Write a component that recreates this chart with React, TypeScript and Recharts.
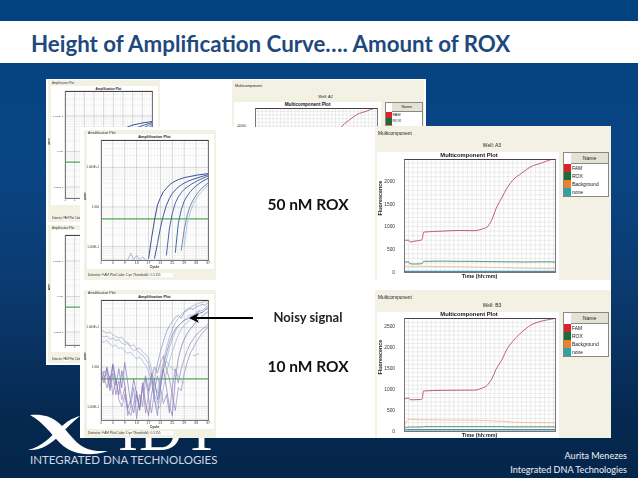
import React from "react";
import {
  CartesianGrid,
  Line,
  LineChart,
  ReferenceLine,
  XAxis,
  YAxis,
} from "recharts";

// amplification plots: cycle vs delta Rn (log)
const cycles = [1,2,3,4,5,6,7,8,9,10,11,12,13,14,15,16,17,18,19,20,21,22,23,24,25,26,27,28,29,30,31,32,33,34,35,36,37];
const cycleTicks = [1,5,9,13,17,21,25,29,33,37];
const rnTicks = [0.1,1,10];
const rnTickLabels = { 0.1: "1.000E-1", 1: "1.000", 10: "1.000E+1" };
const threshold = 0.5;

const clean50 = [
  [17, [0.05,0.16,0.47,1.12,1.72,2.44,2.96,3.6,4.1,4.5,4.9,5.2,5.5,5.7,5.9,6.1,6.3,6.5,6.6,6.8,6.9]],
  [19, [0.05,0.12,0.3,0.62,1.1,1.65,2.2,2.7,3.2,3.6,4.0,4.4,4.7,5.0,5.3,5.6,5.9,6.2,6.5]],
  [23, [0.06,0.28,0.7,1.25,1.8,2.3,2.8,3.2,3.6,4.0,4.4,4.8,5.2,5.6,6.0]],
  [26, [0.07,0.38,0.85,1.4,1.9,2.4,2.9,3.4,3.9,4.4,4.8,5.3]],
  [28, [0.08,0.27,0.62,1.05,1.5,2.0,2.5,3.0,3.5,4.0]],
  [29, [0.1,0.38,0.72,1.15,1.6,2.05,2.5,3.0,3.5]],
  [10, [0.047,0.068,0.047,0.06,0.047,0.055,0.047]],
];
const cleanColors = ["#3d4c92","#41589e","#4a68a6","#4269a0","#6a8db8","#afc8da","#a9b8cc"];

const noisy10 = [
  [1, [8.4,7.8,7.2,7.6,6.4,5.9,5.4,5.6,4.4,4.2,3.4,3.6,2.9,3.0,2.4,2.1,1.7,0.9,0.35,0.22,0.6,1.4,3.0,5.5,9,13,17,21,25,29,32,35,38,41,43,45,47]],
  [1, [6.3,5.7,6.1,5.0,5.4,4.6,4.9,4.0,3.7,3.9,3.0,2.6,2.8,2.2,2.0,1.6,1.2,0.6,0.2,0.12,0.3,0.8,1.5,3,5,8,11,13,15,18,21,19,24,27,26,31,35]],
  [1, [4.6,4.2,4.8,3.7,3.3,3.6,2.9,3.1,2.5,2.2,2.4,1.9,1.6,1.8,1.4,1.1,0.8,0.4,0.15,0.09,0.1,0.3,0.7,1.4,2.4,4,6.5,9,11.5,13,16,18,17,22,24,27,30]],
  [2, [0.5,1,0.45,1.2,0.35,0.9,0.3,1.3,0.4,0.12,0.07,0.2,0.09,0.3,0.6,0.25,0.7,0.15,0.06,0.3,1.1,2.2,4,6.5,9,11,13,15,16,18,20,22,25,23,28,31]],
  [1, [0.7,0.4,0.9,0.3,1.1,0.5,0.2,0.8,0.35,0.09,0.15,0.5,0.2,0.08,0.4,0.12,0.06,0.2,0.5,0.15,0.4,0.9,0.3,0.1,0.06,0.5,1.6,3.2,5,7,9,11,14,16,19,22,25]],
  [1, [0.35,0.8,0.6,0.25,0.7,0.2,0.45,0.15,0.3,0.06,0.1,0.3,0.05,0.2,0.1,0.5,0.16,0.07,0.25,0.6,0.3,0.12,0.2,0.07,0.3,0.9,0.4,0.9,1.6,2.6,3.8,5,6.5,7.5,9,10,12]],
  [1, [0.9,0.55,0.3,0.6,0.2,0.5,0.15,0.1,0.2,0.08,0.06,0.12,0.25,0.09,0.35,0.07,0.2,0.5,1,0.7,1.3,1.9,0.9,0.5,0.2,0.08,0.3,0.25,0.7,1.3,2.2,3,4.2,5.5,7,8.5,10]],
  [19, [0.5,1.2,2.5,4.5,7.5,11,14,18,20,17,24,27,30,28,33,35,38,36,42]],
  [22, [1.0,1.4,1.1,0.9,0.8,0.6,0.45,0.38]],
  [32, [1.9,2.0,2.2]],
];
const noisyColors = ["#93a2c4","#9aa3cb","#91aecb","#7a74b8","#6f6db4","#8a80c0","#9b78b4","#7f8abc","#86b2bc","#99a8ae"];

// multicomponent plots: time vs fluorescence
const times = [0,3,4,7,11,12,13,25,36,47,51,55,58,61,65,68,72,78,84,91,98,100];
const famA3 = [700,700,660,680,700,720,880,900,915,910,940,990,1140,1400,1650,1840,2020,2180,2320,2400,2480,2490];
const roxA3 = [220,225,180,175,180,185,235,240,235,235,232,230,228,228,225,225,225,222,222,225,225,220];
const bgA3 = [130,130,125,125,125,125,125,120,115,110,105,105,100,100,95,95,90,85,80,78,75,75];
const noneA3 = [15,15,15,15,15,15,15,15,15,15,15,15,15,15,15,15,15,15,15,15,15,15];
const famB3 = [760,790,750,750,755,770,960,975,978,980,1020,1095,1240,1480,1720,1950,2150,2370,2540,2635,2685,2700];
const roxB3 = [60,95,95,95,95,95,105,105,105,105,105,105,105,105,105,100,100,100,100,100,100,100];
const bgB3 = [80,280,280,275,270,270,270,265,262,260,255,250,245,240,235,225,215,205,200,200,200,200];
const noneB3 = [25,30,30,30,30,30,30,30,30,30,30,30,30,30,30,30,30,30,30,30,30,30];
const dyeNames = ["FAM","ROX","Background","none"];
const dyeColors = ["#b5505f","#4c8a68","#eabf94","#4d8fa8"];
const dyeSwatches = ["#d8232a","#1d6b3a","#ee7f2d","#2aa3a8"];
const ticksA3 = [0,500,1000,1500,2000];
const ticksB3 = [0,500,1000,1500,2000,2500];

const beige = "#f3f1e4";
const sans = "'Liberation Sans', Arial, sans-serif";
const body = "Lato, sans-serif";

const minorLog = [0.05,0.06,0.07,0.08,0.09,0.2,0.3,0.4,0.5,0.6,0.7,0.8,0.9,2,3,4,5,6,7,8,9,20,30,40];
const minorCycle = [2,3,4,6,7,8,10,11,12,14,15,16,18,19,20,22,23,24,26,27,28,30,31,32,34,35,36];
const gridTimes = [3,6,9,12,15,18,21,24,27,30,33,36,39,42,45,48,51,54,57,60,63,66,69,72,75,78,81,84,87,90,93,96,99];
const gridFluor = [100,200,300,400,500,600,700,800,900,1000,1100,1200,1300,1400,1500,1600,1700,1800,1900,2000,2100,2200,2300,2400,2500,2600,2700];

function ampRows(curves: any[]) {
  return cycles.map((c, i) => {
    const row: any = { cycle: c };
    curves.forEach(([start, vals], j) => {
      const v = vals[i + 1 - start];
      row["s" + j] = v === undefined ? null : v;
    });
    return row;
  });
}

function AmpPanel({ x, y, w, h, l, t, r, b, curves, colors, lineWidth, yMin, yMax, s = 1 }: any) {
  const data = ampRows(curves);
  return (
    <div style={{ position: "absolute", left: x, top: y, width: w, height: h, background: beige, fontFamily: sans, overflow: "hidden" }}>
      <div style={{ position: "absolute", left: 4, top: 1, fontSize: 3.6 * s, color: "#333" }}>Amplification Plot</div>
      <div style={{ position: "absolute", left: 3, top: t - 6 * s, width: w - 5, height: b - t + 15 * s, background: "#fff" }} />
      <div style={{ position: "absolute", left: l, width: r - l, top: t - 5 * s, textAlign: "center", fontSize: 3.8 * s, fontWeight: 700, color: "#222" }}>Amplification Plot</div>
      <div style={{ position: "absolute", left: 0, top: 0 }}>
        <LineChart width={w} height={h} data={data} margin={{ top: t, right: w - r, bottom: 0, left: 0 }}>
          <CartesianGrid stroke="#b9b9b9" strokeWidth={0.6} />
          <XAxis
            dataKey="cycle"
            type="number"
            domain={[1, 37]}
            ticks={cycleTicks}
            height={h - b}
            interval={0}
            axisLine={false}
            tickLine={false}
            tickSize={0}
            tickMargin={1}
            tick={{ fontSize: 3.6 * s, fill: "#333" }}
            label={{ value: "Cycle", position: "insideTop", offset: 5 * s, fontSize: 3.6 * s, fontWeight: 700, fill: "#333" }}
          />
          <YAxis
            type="number"
            scale="log"
            domain={[yMin, yMax]}
            allowDataOverflow
            ticks={rnTicks}
            width={l}
            axisLine={false}
            tickLine={false}
            tickSize={0}
            tickMargin={2}
            tickFormatter={(v: number) => rnTickLabels[v]}
            tick={{ fontSize: 2.9 * s, fill: "#333" }}
            label={{ value: "ΔRn", angle: -90, position: "insideLeft", offset: 1, fontSize: 3.6 * s, fontWeight: 700, fill: "#222" }}
          />
          {minorLog.map((v) => (
            <ReferenceLine key={"h" + v} y={v} stroke="#e2e2e2" strokeWidth={0.4} />
          ))}
          {minorCycle.map((v) => (
            <ReferenceLine key={"v" + v} x={v} stroke="#e8e8e8" strokeWidth={0.4} />
          ))}
          <ReferenceLine y={threshold} stroke="#4eaa55" strokeWidth={1.3} />
          {curves.map((_: any, j: number) => (
            <Line key={j} dataKey={"s" + j} stroke={colors[j]} strokeWidth={lineWidth} dot={false} isAnimationActive={false} />
          ))}
        </LineChart>
      </div>
      <div style={{ position: "absolute", left: l, top: t, width: r - l - 1, height: b - t - 1, border: "0.7px solid #777", borderTopColor: "#444" }} />
      <div style={{ position: "absolute", left: 4, bottom: 3 * s, fontSize: 3.3 * s, color: "#333", whiteSpace: "nowrap" }}>
        Detector: <span style={{ background: "#fff" }}>FAM</span> Plot Color: <span style={{ background: "#fff" }}>Dye</span> Threshold: <span style={{ background: "#fff", padding: "0 12px 0 1px" }}>0.5155</span>
      </div>
    </div>
  );
}

function MultiPanel({ x, y, w, h, band, l, t, r, b, well, fam, rox, bg, none, ticks, yMax, lx, lw, s = 1 }: any) {
  const data = times.map((time, i) => ({ time, fam: fam[i], rox: rox[i], bg: bg[i], none: none[i] }));
  const series = [fam, rox, bg, none];
  const keys = ["fam", "rox", "bg", "none"];
  return (
    <div style={{ position: "absolute", left: x, top: y, width: w, height: h, background: beige, fontFamily: sans, overflow: "hidden" }}>
      <div style={{ position: "absolute", left: 3, top: 5 * s, fontSize: 4.8 * s, color: "#222" }}>Multicomponent</div>
      <div style={{ position: "absolute", left: 0, width: 234 * s, top: band - 10 * s, textAlign: "center", fontSize: 5 * s, color: "#222" }}>Well:  {well}</div>
      <div style={{ position: "absolute", left: 2, top: band, width: lx - 6, height: h - band, background: "#fff" }} />
      <div style={{ position: "absolute", left: 0, width: l + r - 21 * s, top: t - 7 * s, textAlign: "center", fontSize: 5.8 * s, fontWeight: 700, color: "#111" }}>Multicomponent Plot</div>
      <div style={{ position: "absolute", left: 0, top: 0 }}>
        <LineChart width={w} height={h} data={data} margin={{ top: t, right: w - r, bottom: 0, left: 0 }}>
          <XAxis
            dataKey="time"
            type="number"
            domain={[0, 100]}
            height={h - b}
            ticks={[0]}
            tickFormatter={() => ""}
            axisLine={false}
            tickLine={false}
            label={{ value: "Time (hh:mm)", position: "insideTop", offset: 2, fontSize: 5.4 * s, fontWeight: 700, fill: "#222" }}
          />
          <YAxis
            type="number"
            domain={[0, yMax]}
            allowDataOverflow
            ticks={ticks}
            width={l}
            axisLine={false}
            tickLine={false}
            tickMargin={3}
            tick={{ fontSize: 4.8 * s, fill: "#333" }}
            label={{ value: "Fluorescence", angle: -90, position: "insideLeft", offset: 5, fontSize: 5.4 * s, fontWeight: 700, fill: "#222" }}
          />
          {gridFluor.map((v) => (
            <ReferenceLine key={"h" + v} y={v} stroke="#d8d8d8" strokeWidth={0.5} />
          ))}
          {gridTimes.map((v) => (
            <ReferenceLine key={"v" + v} x={v} stroke="#d8d8d8" strokeWidth={0.5} />
          ))}
          {series.map((_, j) => (
            <Line key={j} type="monotone" dataKey={keys[j]} stroke={dyeColors[j]} strokeWidth={j === 3 ? 1.3 : 0.9} dot={false} isAnimationActive={false} />
          ))}
        </LineChart>
      </div>
      <div style={{ position: "absolute", left: l, top: t, width: r - l - 1, height: b - t - 1, border: "0.8px solid #777", borderTopColor: "#444" }} />
      <div style={{ position: "absolute", left: lx, top: band, width: lw, border: "0.6px solid #888", background: "#fff", fontSize: 5 * s, color: "#222" }}>
        <div style={{ height: 10 * s, lineHeight: 10 * s + "px", textAlign: "center", background: "#e4e2d2", borderBottom: "0.5px solid #888", marginLeft: 7 * s }}>Name</div>
        {dyeNames.map((name, i) => (
          <div key={name} style={{ height: 8 * s, lineHeight: 8 * s + "px", position: "relative", paddingLeft: 8 * s }}>
            <span style={{ position: "absolute", left: 0, top: 0, width: 7 * s, height: 8 * s, background: dyeSwatches[i] }} />
            {name}
          </div>
        ))}
      </div>
    </div>
  );
}

export default function App() {
  return (
    <div style={{ position: "absolute", left: 0, top: 0, width: 638, height: 478, overflow: "hidden", background: "linear-gradient(180deg, #01437f 0%, #0a4583 35%, #0b3a70 60%, #05284f 88%, #04264c 100%)", fontFamily: body }}>
      <div style={{ position: "absolute", left: 0, top: 21, width: 638, height: 42, background: "#fff", color: "#1f497d", fontSize: 22.3, fontWeight: 700, lineHeight: "46px", paddingLeft: 31, boxSizing: "border-box", whiteSpace: "nowrap" }}>
        Height of Amplification Curve…. Amount of ROX
      </div>

      {/* logo sits under the screenshots */}
      <svg width={240} height={70} style={{ position: "absolute", left: 0, top: 405 }}>
        <path d="M30 10 C52 8 60 18 70 30 C80 42 88 47 108 46 C90 52 72 50 60 38 C50 28 44 18 30 10 Z" fill="#fff" />
        <path d="M28 45 C42 42 50 32 60 23 C66 17 72 13 80 11 C72 17 66 24 60 30 C50 40 40 46 28 45 Z" fill="#fff" />
        <text x={118} y={45} fontFamily="'Liberation Serif', serif" fontSize={60} fill="#fff" letterSpacing={1}>IDT</text>
      </svg>
      <div style={{ position: "absolute", left: 30, top: 453, fontSize: 11.5, color: "#cfd8e4", whiteSpace: "nowrap", fontWeight: 400 }}>INTEGRATED DNA TECHNOLOGIES</div>
      <div style={{ position: "absolute", right: 11, top: 449, textAlign: "right", color: "#eef2f7", fontSize: 9.1, lineHeight: "14px" }}>
        Aurita Menezes
        <br />
        Integrated DNA Technologies
      </div>

      <div style={{ position: "absolute", left: 0, top: 0, width: 638, height: 478, filter: "blur(0.45px)" }}>
        {/* slides pasted behind the front screenshots */}
        <div style={{ position: "absolute", left: 46, top: 79, width: 380, height: 60, background: "#fff" }} />
        <div style={{ position: "absolute", left: 46, top: 79, width: 40, height: 286, background: "#fff" }} />
        <AmpPanel x={48} y={80} w={112} h={142} l={17} t={11} r={104} b={118} curves={clean50} colors={cleanColors} lineWidth={1} yMin={0.049} yMax={50} s={0.8} />
        <AmpPanel x={48} y={225} w={112} h={138} l={17} t={10} r={104} b={120} curves={[]} colors={[]} lineWidth={1} yMin={0.043} yMax={54} s={0.8} />
        <MultiPanel x={232} y={80} w={192} h={130} band={22} l={23} t={28} r={145} b={120} well="A2" fam={famA3} rox={roxA3} bg={bgA3} none={noneA3} ticks={ticksA3} yMax={2490} lx={153} lw={36} s={0.8} />

        <div style={{ position: "absolute", left: 80, top: 127, width: 531, height: 311, background: "#fff" }} />
        <AmpPanel x={84} y={130} w={132} h={150} l={17} t={10} r={124} b={130} curves={clean50} colors={cleanColors} lineWidth={1} yMin={0.046} yMax={49} />
        <AmpPanel x={84} y={290} w={132} h={148} l={17} t={10} r={124} b={130} curves={noisy10} colors={noisyColors} lineWidth={0.65} yMin={0.046} yMax={49} />

        <MultiPanel x={375} y={126} w={236} h={154} band={26} l={29} t={33} r={180} b={146} well="A3" fam={famA3} rox={roxA3} bg={bgA3} none={noneA3} ticks={ticksA3} yMax={2490} lx={188} lw={44} />
        <MultiPanel x={375} y={290} w={236} h={148} band={22} l={29} t={28} r={180} b={141} well="B3" fam={famB3} rox={roxB3} bg={bgB3} none={noneB3} ticks={ticksB3} yMax={2710} lx={188} lw={44} />

        <div style={{ position: "absolute", left: 240, top: 195, width: 136, textAlign: "center", fontSize: 15.5, fontWeight: 700, color: "#111" }}>50 nM ROX</div>
        <div style={{ position: "absolute", left: 240, top: 309, width: 136, textAlign: "center", fontSize: 13, fontWeight: 700, color: "#222" }}>Noisy signal</div>
        <div style={{ position: "absolute", left: 240, top: 357, width: 136, textAlign: "center", fontSize: 15.5, fontWeight: 700, color: "#111" }}>10 nM ROX</div>
        <svg width={70} height={16} style={{ position: "absolute", left: 187, top: 310 }}>
          <path d="M66 8 H8" stroke="#000" strokeWidth={2} />
          <path d="M2 8 L12 3 L9 8 L12 13 Z" fill="#000" />
        </svg>
      </div>
    </div>
  );
}
